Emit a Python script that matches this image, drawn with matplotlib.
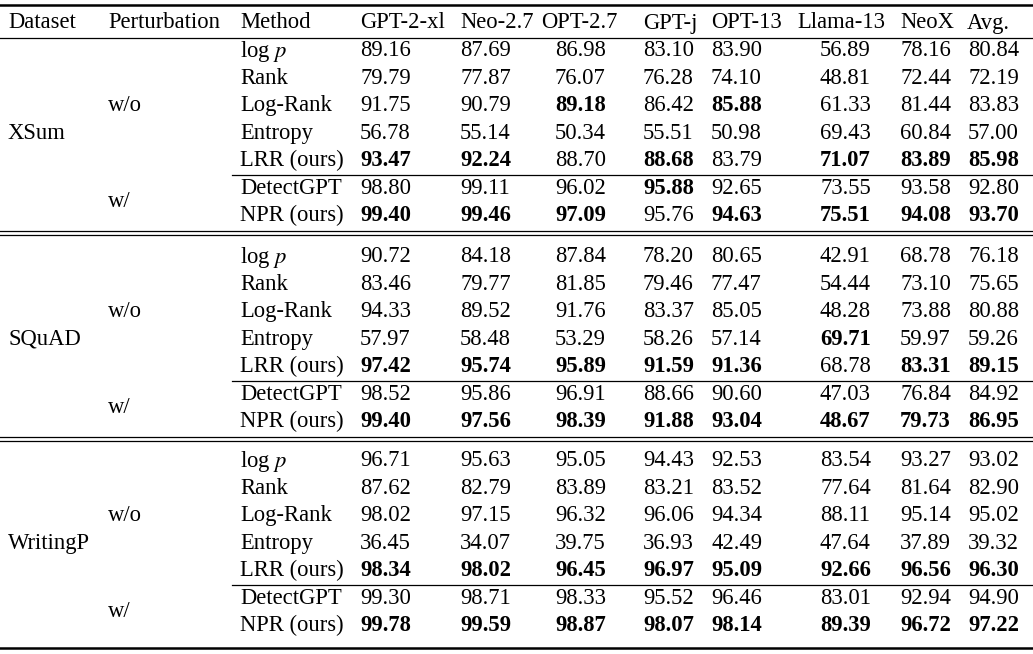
import matplotlib
matplotlib.use("Agg")
import matplotlib.pyplot as plt

plt.rcParams['font.family'] = ['Liberation Serif', 'DejaVu Serif']
plt.rcParams['mathtext.fontset'] = 'stix'

headers = ["Dataset", "Perturbation", "Method", "GPT-2-xl", "Neo-2.7", "OPT-2.7", "GPT-j", "OPT-13", "Llama-13", "NeoX", "Avg."]
datasets = ["XSum", "SQuAD", "WritingP"]
methods_wo = ["log $p$", "Rank", "Log-Rank", "Entropy", "LRR (ours)"]
methods_w = ["DetectGPT", "NPR (ours)"]

xsum = [[89.16, 87.69, 86.98, 83.10, 83.90, 56.89, 78.16, 80.84],
        [79.79, 77.87, 76.07, 76.28, 74.10, 48.81, 72.44, 72.19],
        [91.75, 90.79, 89.18, 86.42, 85.88, 61.33, 81.44, 83.83],
        [56.78, 55.14, 50.34, 55.51, 50.98, 69.43, 60.84, 57.00],
        [93.47, 92.24, 88.70, 88.68, 83.79, 71.07, 83.89, 85.98],
        [98.80, 99.11, 96.02, 95.88, 92.65, 73.55, 93.58, 92.80],
        [99.40, 99.46, 97.09, 95.76, 94.63, 75.51, 94.08, 93.70]]
squad = [[90.72, 84.18, 87.84, 78.20, 80.65, 42.91, 68.78, 76.18],
         [83.46, 79.77, 81.85, 79.46, 77.47, 54.44, 73.10, 75.65],
         [94.33, 89.52, 91.76, 83.37, 85.05, 48.28, 73.88, 80.88],
         [57.97, 58.48, 53.29, 58.26, 57.14, 69.71, 59.97, 59.26],
         [97.42, 95.74, 95.89, 91.59, 91.36, 68.78, 83.31, 89.15],
         [98.52, 95.86, 96.91, 88.66, 90.60, 47.03, 76.84, 84.92],
         [99.40, 97.56, 98.39, 91.88, 93.04, 48.67, 79.73, 86.95]]
writingp = [[96.71, 95.63, 95.05, 94.43, 92.53, 83.54, 93.27, 93.02],
            [87.62, 82.79, 83.89, 83.21, 83.52, 77.64, 81.64, 82.90],
            [98.02, 97.15, 96.32, 96.06, 94.34, 88.11, 95.14, 95.02],
            [36.45, 34.07, 39.75, 36.93, 42.49, 47.64, 37.89, 39.32],
            [98.34, 98.02, 96.45, 96.97, 95.09, 92.66, 96.56, 96.30],
            [99.30, 98.71, 98.33, 95.52, 96.46, 83.01, 92.94, 94.90],
            [99.78, 99.59, 98.87, 98.07, 98.14, 89.39, 96.72, 97.22]]
tables = [xsum, squad, writingp]

W, H = 1033, 654
fig = plt.figure(figsize=(W/100, H/100), dpi=100)
ax = fig.add_axes([0, 0, 1, 1])
ax.set_xlim(0, W); ax.set_ylim(H, 0); ax.axis('off')

fs = 16.3
hx = [8, 108, 240, 360, 460, 541, 643, 711, 797, 900, 967]
nx = [360, 460, 555, 643, 711, 820, 900, 968]

ax.plot([0, W], [5, 5], color='black', lw=1.8)
ax.plot([0, W], [38, 38], color='black', lw=0.9)
for i, h in enumerate(headers):
    ax.text(hx[i], 23, h, fontsize=fs, va='center', ha='left')

row_h = 27.4
starts = [51, 257, 461]
for d, (name, tab) in enumerate(zip(datasets, tables)):
    y0 = starts[d]
    ys = [y0 + k*row_h for k in range(7)]
    ax.text(hx[0], ys[3], name, fontsize=fs, va='center')
    ax.text(hx[1], ys[2], "w/o", fontsize=fs, va='center')
    ax.text(hx[1], (ys[5]+ys[6])/2, "w/", fontsize=fs, va='center')
    sep = (ys[4]+ys[5])/2 + 1
    ax.plot([232, W], [sep, sep], color='black', lw=0.9)
    groups = [range(0, 5), range(5, 7)]
    for g in groups:
        for c in range(8):
            mx = max(tab[r][c] for r in g)
            for r in g:
                ax.text(nx[c], ys[r], f"{tab[r][c]:.2f}", fontsize=fs, va='center',
                        fontweight='bold' if tab[r][c] == mx else 'normal')
    for r, m in enumerate(methods_wo + methods_w):
        ax.text(hx[2], ys[r], m, fontsize=fs, va='center')
    if d < 2:
        yb = ys[6] + 16
        ax.plot([0, W], [yb, yb], color='black', lw=0.9)
        ax.plot([0, W], [yb+4, yb+4], color='black', lw=0.9)
ax.plot([0, W], [648, 648], color='black', lw=1.8)

fig.savefig("out.png", dpi=100)
